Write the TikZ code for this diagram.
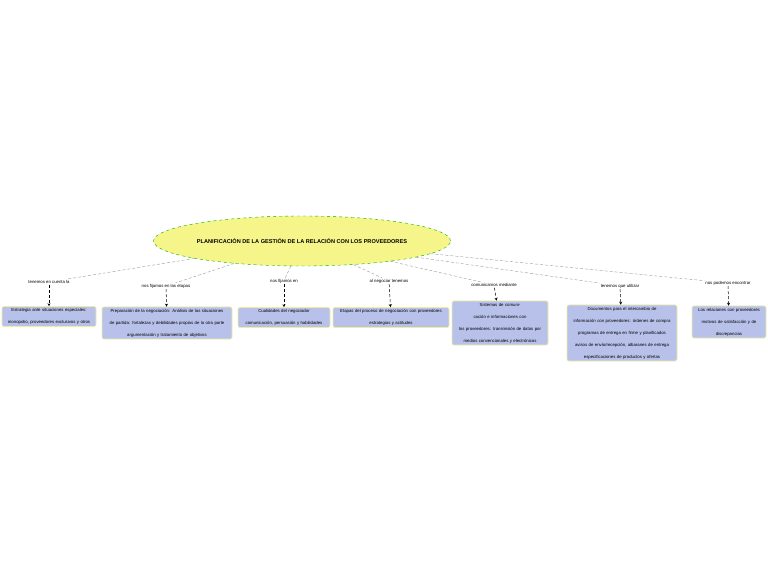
\documentclass[tikz,border=0pt]{standalone}
\usepackage{fontspec}
\setmainfont{Liberation Sans}
\usetikzlibrary{shapes.geometric,arrows.meta}
\definecolor{boxfill}{HTML}{B7C1EA}
\definecolor{boxline}{HTML}{EEEE9A}
\definecolor{ellfill}{HTML}{F5F589}
\begin{document}
\begin{tikzpicture}[x=1pt,y=-1pt,
  topic/.style={draw=boxline,fill=boxfill,rounded corners=2pt,align=center,font=\fontsize{4.3}{12}\selectfont,inner sep=2pt,line width=0.6pt},
  lbl/.style={font=\fontsize{4.3}{5}\selectfont,inner sep=1pt},
  link/.style={draw=gray!80,densely dashed,line width=0.4pt},
  arr/.style={draw=black,densely dashed,line width=0.5pt,-{Stealth[length=3pt,width=3pt]}}]
\useasboundingbox[fill=white] (0,0) rectangle (768,578);
\node[ellipse,draw=green!70!black,dashed,fill=ellfill,minimum width=245pt,minimum height=50pt,font=\fontsize{5.6}{6}\selectfont\bfseries,inner sep=0pt] (root) at (302,241) {PLANIFICACIÓN DE LA GESTIÓN DE LA RELACIÓN CON LOS PROVEEDORES};

\node[lbl] (l1) at (49,282) {tenemos en cuenta la};
\node[lbl] (l2) at (166,286) {nos fijamos en las etapas};
\node[lbl] (l3) at (284,281) {nos fijamos en};
\node[lbl] (l4) at (389,281) {al negociar tenemos};
\node[lbl] (l5) at (494,285) {comunicamos mediante};
\node[lbl] (l6) at (620,286) {tenemos que utilizar};
\node[lbl] (l7) at (728,283) {nos podemos encontrar};

\node[topic,text width=90pt] (b1) at (49,316.5) {Estrategia ante situaciones especiales:\\monopolio, proveedores exclusivos y otros};
\node[topic,text width=126pt] (b2) at (167,323) {Preparación de la negociación: Análisis de las situaciones\\de partida: fortalezas y debilidades propias de la otra parte\\argumentación y tratamiento de objetivos};
\node[topic,text width=88pt] (b3) at (284,317.5) {Cualidades del negociador\\comunicación, persuasión y habilidades};
\node[topic,text width=112pt] (b4) at (391,317.5) {Etapas del proceso de negociación con proveedores\\estrategias y actitudes};
\node[topic,text width=92pt] (b5) at (500,323) {Sistemas de comunicación e informaciones con\\los proveedores: transmisión de datos por\\medios convencionales y electrónicos};
\node[topic,text width=106pt] (b6) at (622,333) {Documentos para el intercambio de\\información con proveedores: órdenes de compra\\programas de entrega en firme y planificados\\avisos de envío/recepción, albaranes de entrega\\especificaciones de productos y ofertas};
\node[topic,text width=70pt] (b7) at (729,322) {Los relaciones con proveedores\\motivos de satisfacción y de\\discrepancias};

\foreach \i in {1,...,7}{
  \draw[link] (root) -- (l\i);
  \draw[arr] (l\i) -- (b\i);
}
\end{tikzpicture}
\end{document}
